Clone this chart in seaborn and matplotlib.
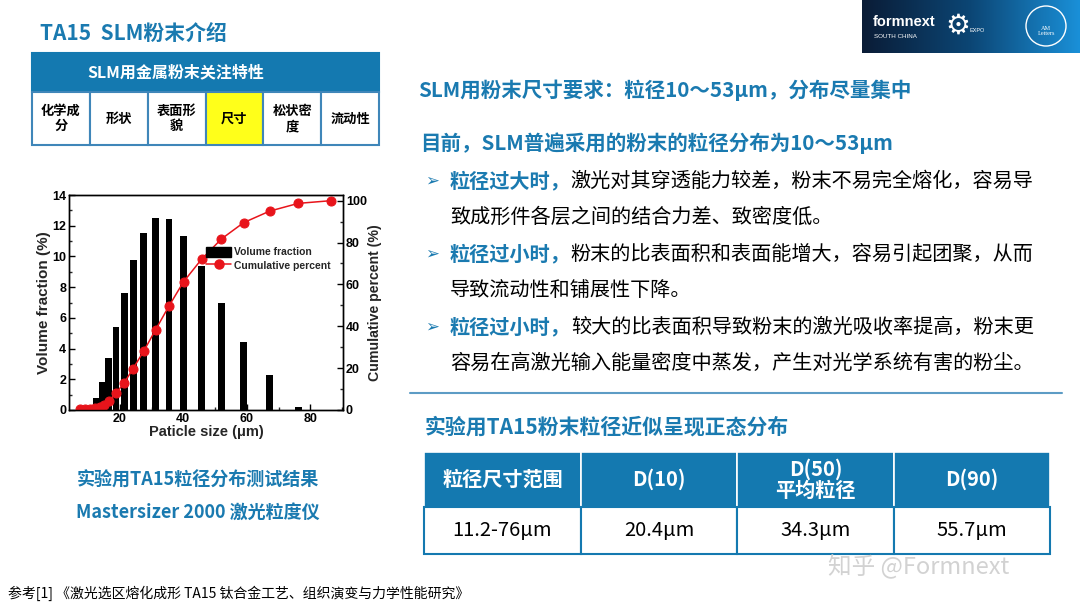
import numpy as np
import pandas as pd
import matplotlib
matplotlib.use("Agg")
import matplotlib.pyplot as plt
import seaborn as sns
from matplotlib.patches import Rectangle, Circle, Patch
from matplotlib.lines import Line2D
from matplotlib.ticker import MultipleLocator
from matplotlib.colors import LinearSegmentedColormap


# Volume fraction per size class
bar_size = [12.6, 14.5, 16.5, 18.8, 21.4, 24.2, 27.6, 31.3, 35.5, 40.1,
            45.8, 52.0, 59.0, 67.2, 76.2]
bar_volume = [0.75, 1.8, 3.4, 5.4, 7.6, 9.8, 11.5, 12.5, 12.45, 11.35,
              9.4, 6.95, 4.45, 2.3, 0.18]

# Cumulative percent curve
cum_size = [7.4, 8.9, 10.5, 12.1, 13.7, 15.0, 16.5, 18.8, 21.4, 24.2,
            27.6, 31.3, 35.5, 40.1, 45.8, 52.0, 59.0, 67.2, 76.2, 86.6]
cum_percent = [0.3, 0.3, 0.4, 0.8, 1.6, 2.6, 4.3, 8.0, 13.0, 19.8,
               28.3, 38.4, 49.7, 61.3, 72.1, 81.7, 89.5, 95.0, 98.7, 100.0]

# Slide texts
title = "TA15  SLM粉末介绍"
prop_header = "SLM用金属粉末关注特性"
prop_cells = ["化学成\n分", "形状", "表面形\n貌", "尺寸", "松状密\n度", "流动性"]
highlight_cell = "尺寸"
req_line = "SLM用粉末尺寸要求：粒径10～53μm，分布尽量集中"
cur_line = "目前，SLM普遍采用的粉末的粒径分布为10～53μm"
bullet_heads = ["粒径过大时，", "粒径过小时，", "粒径过小时，"]
bullet_first = ["激光对其穿透能力较差，粉末不易完全熔化，容易导",
                "粉末的比表面积和表面能增大，容易引起团聚，从而",
                "较大的比表面积导致粉末的激光吸收率提高，粉末更"]
bullet_second = ["致成形件各层之间的结合力差、致密度低。",
                 "导致流动性和铺展性下降。",
                 "容易在高激光输入能量密度中蒸发，产生对光学系统有害的粉尘。"]
dist_title = "实验用TA15粉末粒径近似呈现正态分布"
dist_header = ["粒径尺寸范围", "D(10)", "D(50)\n平均粒径", "D(90)"]
dist_values = ["11.2-76μm", "20.4μm", "34.3μm", "55.7μm"]
caption = ["实验用TA15粒径分布测试结果", "Mastersizer 2000 激光粒度仪"]
reference = "参考[1] 《激光选区熔化成形 TA15 钛合金工艺、组织演变与力学性能研究》"
watermark = "知乎 @Formnext"

BLUE = "#1479b0"
TXT_BLUE = "#1a7ab0"
RED = "#e8141b"
CJK = ["Noto Sans CJK SC", "DejaVu Sans"]
LAT = ["Liberation Sans", "DejaVu Sans"]

sns.set_theme(style="white")
plt.rcParams["font.family"] = CJK

fig = plt.figure(figsize=(10.8, 6.08), dpi=100)

# full-slide axes in pixel coordinates for the layout pieces
bg = fig.add_axes([0, 0, 1, 1], zorder=0)
bg.axis("off")
bg.set_xlim(0, 1080)
bg.set_ylim(608, 0)

# logo banner
grad = np.linspace(0, 1, 256)[None, :]
cmap = LinearSegmentedColormap.from_list("banner", ["#0a1c36", "#0c4675", "#1a90d8"])
bg.imshow(grad, extent=[862, 1080, 53, 0], cmap=cmap, aspect="auto", zorder=1)
bg.set_xlim(0, 1080)
bg.set_ylim(608, 0)
bg.text(873, 22, "formnext", color="white", fontsize=10.5, fontweight="bold",
        family=LAT, va="center", zorder=2)
bg.text(874, 37, "SOUTH CHINA", color="white", fontsize=4.5, family=LAT,
        va="center", zorder=2)
bg.text(958, 26, "\u2699", color="white", fontsize=20, family=["DejaVu Sans"],
        ha="center", va="center", zorder=2)
bg.text(970, 31, "EXPO", color="white", fontsize=4, family=LAT, va="center", zorder=2)
bg.add_patch(Circle((1046, 26), 20, facecolor="none", edgecolor="white", lw=1, zorder=2))
bg.text(1046, 31, "AM\nLetters", color="white", fontsize=4.5, family=["Liberation Serif"],
        ha="center", va="center", linespacing=1.0, zorder=2)

# title
bg.text(40, 33, title, color=TXT_BLUE, fontsize=15, fontweight="bold", va="center")

# property table
tbl_left, tbl_right = 32, 379
hdr_top, hdr_bot, row_bot = 53, 92, 145
bg.add_patch(Rectangle((tbl_left, hdr_top), tbl_right - tbl_left, hdr_bot - hdr_top,
                       facecolor=BLUE, edgecolor=BLUE, lw=1.5))
bg.text(176, (hdr_top + hdr_bot) / 2, prop_header, color="white", fontsize=11.5,
        fontweight="bold", ha="center", va="center")
cw = (tbl_right - tbl_left) / len(prop_cells)
for i, c in enumerate(prop_cells):
    x0 = tbl_left + i * cw
    fc = "#ffff1a" if c == highlight_cell else "white"
    bg.add_patch(Rectangle((x0, hdr_bot), cw, row_bot - hdr_bot, facecolor=fc,
                           edgecolor="#3f86b9", lw=1.5))
    bg.text(x0 + cw / 2, (hdr_bot + row_bot) / 2, c, fontsize=9.5, fontweight="bold",
            ha="center", va="center", linespacing=1.15, color="black")

# right side text
bg.text(418, 90, req_line, color=TXT_BLUE, fontsize=14.8, fontweight="bold", va="center")
bg.text(420, 143, cur_line, color=TXT_BLUE, fontsize=14.8, fontweight="bold", va="center")

renderer = fig.canvas.get_renderer()
bullet_y = [181, 254, 327]
for y, head, first, second in zip(bullet_y, bullet_heads, bullet_first, bullet_second):
    bg.text(432, y, "\u27a2", color=TXT_BLUE, fontsize=12, family=["DejaVu Sans"],
            ha="center", va="center")
    t = bg.text(450, y, head, color=TXT_BLUE, fontsize=14.5, fontweight="bold", va="center")
    bb = t.get_window_extent(renderer)
    x_end = bg.transData.inverted().transform((bb.x1, bb.y0))[0]
    bg.text(x_end, y, first, color="black", fontsize=14.5, va="center")
    bg.text(450, y + 36, second, color="black", fontsize=14.5, va="center")

bg.plot([410, 1062], [393, 393], color="#5d9cc5", lw=1.5)

# distribution table
bg.text(425, 427, dist_title, color=TXT_BLUE, fontsize=15, fontweight="bold", va="center")
col_edges = [424, 581, 737, 894, 1050]
d_top, d_mid, d_bot = 452, 507, 554
for i, (h, v) in enumerate(zip(dist_header, dist_values)):
    x0, x1 = col_edges[i], col_edges[i + 1]
    bg.add_patch(Rectangle((x0, d_top), x1 - x0, d_mid - d_top, facecolor=BLUE,
                           edgecolor="white", lw=1.2))
    bg.add_patch(Rectangle((x0, d_mid), x1 - x0, d_bot - d_mid, facecolor="white",
                           edgecolor=BLUE, lw=1.5))
    bg.text((x0 + x1) / 2, (d_top + d_mid) / 2, h, color="white", fontsize=14.5,
            fontweight="bold", ha="center", va="center", linespacing=1.0)
    bg.text((x0 + x1) / 2, (d_mid + d_bot) / 2, v, color="black", fontsize=14.5,
            ha="center", va="center")

bg.text(828, 566, watermark, color="#d2d2d2", fontsize=17, va="center")

# captions & reference
bg.text(198, 480, caption[0], color=TXT_BLUE, fontsize=13, fontweight="bold",
        ha="center", va="center")
bg.text(198, 512, caption[1], color=TXT_BLUE, fontsize=13, fontweight="bold",
        ha="center", va="center")
bg.text(8, 593, reference, color="black", fontsize=10, va="center")

# particle size chart
ax = fig.add_axes([69 / 1080, 198 / 608, 274 / 1080, 215 / 608], zorder=2)
df_bar = pd.DataFrame({"size": bar_size, "volume": bar_volume})
sns.barplot(data=df_bar, x="size", y="volume", native_scale=True, color="black",
            saturation=1, width=1.15, errorbar=None, edgecolor="black", linewidth=0, ax=ax)
ax2 = ax.twinx()
df_cum = pd.DataFrame({"size": cum_size, "cum": cum_percent})
sns.lineplot(data=df_cum, x="size", y="cum", color=RED, marker="o", markersize=6.5,
             markeredgecolor=RED, markerfacecolor=RED, linewidth=1.1, ax=ax2)

ax.set_xlim(4, 90.3)
ax.set_ylim(0, 14)
ax2.set_ylim(0, 102.7)
ax.xaxis.set_major_locator(MultipleLocator(20))
ax.xaxis.set_minor_locator(MultipleLocator(10))
ax.yaxis.set_major_locator(MultipleLocator(2))
ax.yaxis.set_minor_locator(MultipleLocator(1))
ax2.yaxis.set_major_locator(MultipleLocator(20))
ax2.yaxis.set_minor_locator(MultipleLocator(10))

for a in (ax, ax2):
    a.tick_params(which="major", direction="in", length=4, width=1, labelsize=9,
                  pad=2, colors="black")
    a.tick_params(which="minor", direction="in", length=2, width=1)
    for s in a.spines.values():
        s.set_color("black")
        s.set_linewidth(1)
ax.tick_params(axis="x", which="both", bottom=True)
ax.tick_params(axis="y", which="both", left=True)
ax2.tick_params(axis="y", which="both", right=True)

for lab in ax.get_xticklabels() + ax.get_yticklabels() + ax2.get_yticklabels():
    lab.set_family(LAT)
    lab.set_fontweight("bold")

ax.set_xlabel("Paticle size (μm)", labelpad=0, family=LAT, fontweight="bold", fontsize=10.5)
ax.set_ylabel("Volume fraction (%)", labelpad=1, family=LAT, fontweight="bold", fontsize=11)
ax2.set_ylabel("Cumulative percent (%)", labelpad=1, family=LAT, fontweight="bold",
               fontsize=10.2)

handles = [Patch(facecolor="black", edgecolor="black", label="Volume fraction"),
           Line2D([], [], color=RED, marker="o", markersize=6.5, lw=1.1,
                  label="Cumulative percent")]
ax2.legend(handles=handles, loc="upper left", bbox_to_anchor=(0.5, 0.76),
           frameon=False, borderaxespad=0, borderpad=0, handlelength=2.4,
           handleheight=1.2, handletextpad=0.3, labelspacing=0.25,
           prop={"family": LAT, "weight": "bold", "size": 7.5})

fig.savefig("out.png", dpi=100)
